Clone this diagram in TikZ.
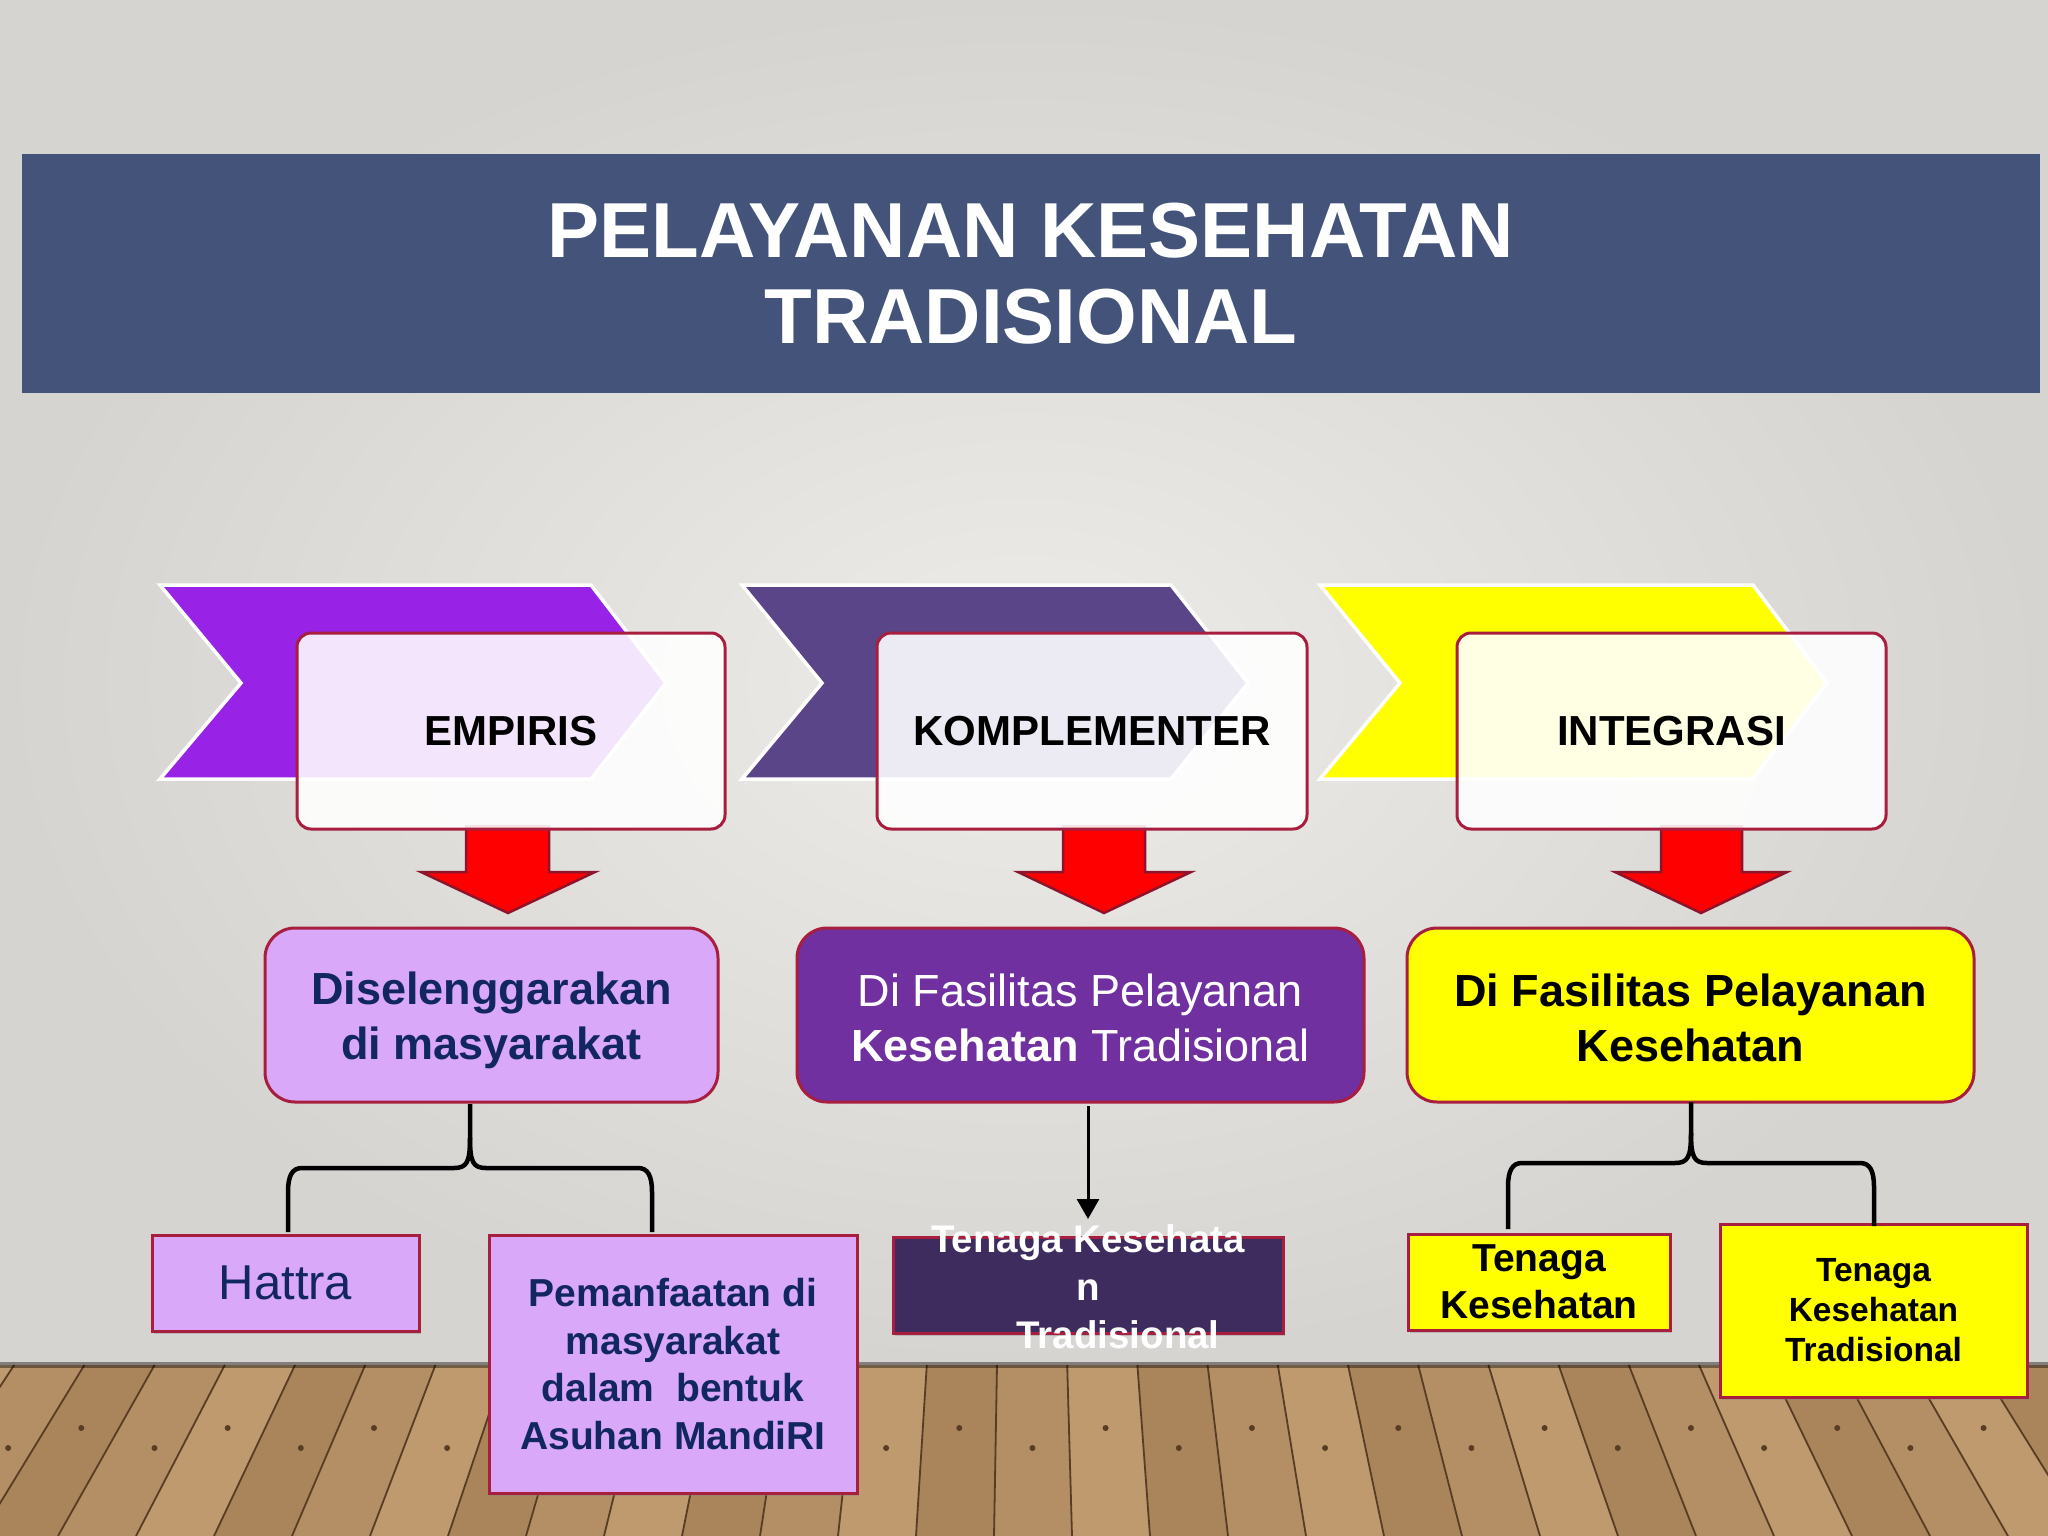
\documentclass[tikz,border=0pt]{standalone}
\usepackage{fontspec}
\setmainfont{Liberation Sans}
\usetikzlibrary{calc,arrows.meta,shadows}
\definecolor{banner}{RGB}{67,83,122}
\definecolor{wallIn}{RGB}{238,236,233}
\definecolor{wallOut}{RGB}{214,212,209}
\definecolor{floorA}{RGB}{192,156,112}
\definecolor{floorB}{RGB}{158,120,80}
\definecolor{seam}{RGB}{88,60,36}
\definecolor{crimson}{RGB}{168,30,62}
\definecolor{arrowedge}{RGB}{140,20,45}
\definecolor{chevA}{RGB}{152,34,230}
\definecolor{chevB}{RGB}{90,69,137}
\definecolor{chevC}{RGB}{255,255,0}
\definecolor{lav}{RGB}{217,168,248}
\definecolor{purp}{RGB}{112,48,160}
\definecolor{darkp}{RGB}{62,44,94}
\definecolor{navy}{RGB}{18,38,98}
\begin{document}
\begin{tikzpicture}[x=1pt,y=-1pt,
  chev/.style={draw=white, line width=3.5pt, line join=miter},
  redarrow/.style={fill=red, draw=arrowedge, line width=2.5pt, line join=miter},
  topbox/.style={draw=crimson, line width=3pt, fill=white, fill opacity=0.89, text opacity=1,
    rounded corners=14pt, minimum height=196pt, inner sep=0pt,
    font=\fontsize{42}{50}\selectfont\bfseries},
  midbox/.style={draw=crimson, line width=3pt, rounded corners=30pt, minimum height=174pt,
    inner sep=0pt, align=center},
  lowbox/.style={draw=crimson, line width=3pt, inner sep=0pt, align=center,
    drop shadow={shadow xshift=1.5pt, shadow yshift=-3pt, opacity=0.35}},
  brace/.style={draw=black, line width=4.5pt},
  conn/.style={draw=black, line width=3pt, -{Triangle[width=22pt,length=20pt]}}
]
\useasboundingbox (0,0) rectangle (2048,1536);
% wall
\shade[inner color=wallIn, outer color=wallOut] (0,0) rectangle (2048,1366);
% floor
\fill[floorA] (0,1365) rectangle (2048,1536);
\foreach \i in {-2,...,28}{
  \pgfmathsetmacro\xa{\i*78-20}
  \pgfmathsetmacro\xb{\xa+78}
  \pgfmathsetmacro\ta{1024+(\xa-1024)*0.9}
  \pgfmathsetmacro\tb{1024+(\xb-1024)*0.9}
  \pgfmathsetmacro\mixv{int(35+30*mod(abs(\i)*7,3))}
  \fill[floorA!\mixv!floorB] (\ta,1365) -- (\tb,1365) -- (\xb,1536) -- (\xa,1536) -- cycle;
  \draw[seam, line width=1.8pt] (\ta,1365) -- (\xa,1536);
  \pgfmathsetmacro\da{(\ta+\tb)/2*0.62+(\xa+\xb)/2*0.38}
  \pgfmathsetmacro\yy{1428+20*mod(abs(\i),2)}
  \fill[seam] (\da,\yy) circle (3);
}
\fill[black, opacity=0.4] (0,1362) rectangle (2048,1368);

% title banner
\node[fill=banner, minimum width=2018pt, minimum height=239pt, inner sep=0pt, text=white,
  align=center, font=\fontsize{78}{86}\selectfont\bfseries] (title) at (1031,273.5)
  {PELAYANAN KESEHATAN\\TRADISIONAL};

% chevrons
\path[chev, fill=chevA] (160,585) -- (591,585) -- (666,683) -- (591,779) -- (160,779) -- (241,683) -- cycle;
\path[chev, fill=chevB] (742,585) -- (1171,585) -- (1248,683) -- (1171,779) -- (742,779) -- (822,683) -- cycle;
\path[chev, fill=chevC] (1320,585) -- (1753,585) -- (1827,683) -- (1753,779) -- (1320,779) -- (1400,683) -- cycle;

% red arrows
\path[redarrow] (466,826) -- (549,826) -- (549,872) -- (595,872) -- (508,913) -- (421,872) -- (466,872) -- cycle;
\path[redarrow] (1063,826) -- (1145,826) -- (1145,872) -- (1191,872) -- (1104,913) -- (1018,872) -- (1063,872) -- cycle;
\path[redarrow] (1661,826) -- (1742,826) -- (1742,872) -- (1787,872) -- (1701,913) -- (1615,872) -- (1661,872) -- cycle;

% top boxes
\node[topbox, minimum width=428pt] (emp) at (511,731) {EMPIRIS};
\node[topbox, minimum width=430pt] (kom) at (1092,731) {KOMPLEMENTER};
\node[topbox, minimum width=429pt] (int) at (1671.5,731) {INTEGRASI};

% middle boxes
\node[midbox, fill=lav, text=navy, minimum width=453pt,
  font=\fontsize{45}{55}\selectfont\bfseries] (mA) at (491.5,1015) {\rule{0pt}{43pt}Diselenggarakan\\di masyarakat};
\node[midbox, fill=purp, text=white, minimum width=567pt,
  font=\fontsize{45}{55}\selectfont] (mB) at (1080.5,1015) {\rule{0pt}{39pt}Di Fasilitas Pelayanan\\\textbf{Kesehatan} Tradisional};
\node[midbox, fill=chevC, text=black, minimum width=567pt,
  font=\fontsize{45}{55}\selectfont\bfseries] (mC) at (1690.5,1015) {\rule{0pt}{39pt}Di Fasilitas Pelayanan\\Kesehatan};

% bottom boxes
\node[lowbox, fill=lav, text=navy, minimum width=267pt, minimum height=96pt,
  font=\fontsize{49}{55}\selectfont] (hat) at (285.5,1283) {Hattra};
\node[lowbox, fill=lav, text=navy, minimum width=368pt, minimum height=258pt,
  font=\fontsize{39}{47.5}\selectfont\bfseries] (pem) at (673,1364)
  {Pemanfaatan di\\masyarakat\\dalam\ \ bentuk\\Asuhan MandiRI};
\node[lowbox, fill=darkp, minimum width=390pt, minimum height=96pt] (dk) at (1088,1285) {};
\node[text=white, align=center, inner sep=0pt, font=\fontsize{38.5}{48}\selectfont\bfseries]
  (dkt) at (1088,1287) {Tenaga Kesehata\\n\\\hspace*{60pt}Tradisional};
\node[lowbox, fill=chevC, text=black, minimum width=262pt, minimum height=96pt,
  font=\fontsize{39}{47}\selectfont\bfseries] (tk) at (1539,1282) {Tenaga\\Kesehatan};
\node[lowbox, fill=chevC, text=black, minimum width=307pt, minimum height=173pt,
  font=\fontsize{33.5}{40}\selectfont\bfseries] (tkt) at (1873.5,1310.5) {Tenaga\\Kesehatan\\Tradisional};

% connectors
\coordinate (sA) at (470,1104);
\coordinate (lA) at (288,1232);
\coordinate (rA) at (652,1232);
\draw[brace] (sA) -- (470,1138) .. controls (470,1162) and (467,1168) .. (454,1168)
  -- (302,1168) .. controls (292,1168) and (288,1176) .. (288,1192) -- (lA);
\draw[brace] (470,1138) .. controls (470,1162) and (473,1168) .. (486,1168)
  -- (638,1168) .. controls (648,1168) and (652,1176) .. (652,1192) -- (rA);

\coordinate (sC) at (1691,1102);
\coordinate (lC) at (1508,1229);
\coordinate (rC) at (1874,1226);
\draw[brace] (sC) -- (1691,1133) .. controls (1691,1157) and (1688,1163) .. (1675,1163)
  -- (1522,1163) .. controls (1512,1163) and (1508,1171) .. (1508,1187) -- (lC);
\draw[brace] (1691,1133) .. controls (1691,1157) and (1694,1163) .. (1707,1163)
  -- (1860,1163) .. controls (1870,1163) and (1874,1171) .. (1874,1187) -- (rC);

\coordinate (sB) at (1088,1106);
\coordinate (eB) at (1088,1219);
\draw[conn] (sB) -- (eB);
\end{tikzpicture}
\end{document}
